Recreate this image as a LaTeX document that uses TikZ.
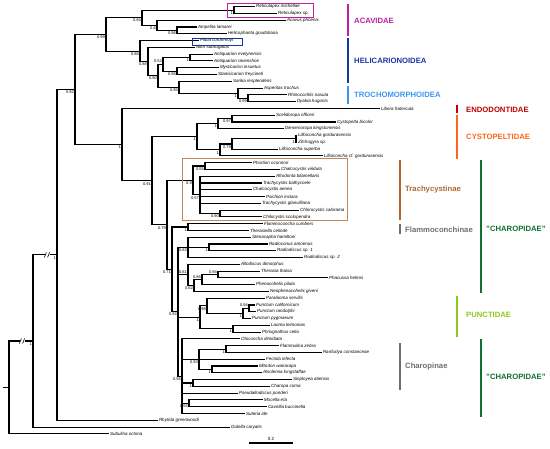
\documentclass[tikz,border=0pt]{standalone}
\usepackage{fontspec}
\setmainfont{Liberation Sans}
\usetikzlibrary{calc}
\definecolor{acav}{RGB}{192,32,160}
\definecolor{helic}{RGB}{24,54,160}
\definecolor{troch}{RGB}{60,150,240}
\definecolor{endo}{RGB}{192,0,0}
\definecolor{cysto}{RGB}{255,102,26}
\definecolor{trachy}{RGB}{176,104,48}
\definecolor{flamc}{RGB}{110,110,110}
\definecolor{charo}{RGB}{16,112,48}
\definecolor{punct}{RGB}{140,200,30}
\tikzset{
  br/.style={line width=1.1pt},
  tip/.style={anchor=west, inner sep=0.8pt, font=\fontsize{4.5}{5}\selectfont\itshape},
  sup/.style={anchor=north east, inner sep=0.2pt, xshift=-0.8pt, yshift=-1pt, font=\fontsize{4}{4.5}\selectfont},
  supup/.style={anchor=south east, yshift=2pt},
  clade/.style={anchor=west, inner sep=0pt, font=\fontsize{7.7}{8}\selectfont\bfseries},
  bar/.style={line width=2.6pt}
}
\newcommand\Tip[4]{\coordinate (#1) at (#3,{6.7+6.78*#2}); \node[tip] (#1l) at (#1) {#4};}
\newcommand\Inode[4]{\path let \p1=($(#3)!.5!(#4)$) in coordinate (#1) at (#2pt,\y1);}
\newcommand\E[2]{\draw[br] (#1) |- (#2);}
\newcommand\Sup[3][]{\node[sup,#1] (s#2) at (#2) {#3};}
\begin{document}
\begin{tikzpicture}[x=1pt,y=-1pt]
\useasboundingbox (0,0) rectangle (550,449);
% tips
\Tip{t0}{0}{255}{Reticulapex michellae}
\Tip{t1}{1}{277}{Reticulapex sp.}
\Tip{t2}{2}{286}{Acavus phoenix}
\Tip{t3}{3}{197}{Ampelita lamarei}
\Tip{t4}{4}{227}{Helicophanta goudotiana}
\Tip{t5}{5}{199}{Pilula cordemoyi}
\Tip{t6}{6}{195}{Nitor subrugatus}
\Tip{t7}{7}{213}{Antiquarion evelynensis}
\Tip{t8}{8}{213}{Antiquarion ravenshoe}
\Tip{t9}{9}{219}{Mysticarion insuetus}
\Tip{t10}{10}{217}{Stanisicarion freycineti}
\Tip{t11}{11}{232}{Sarika resplendens}
\Tip{t12}{12}{263}{Asperitas trochus}
\Tip{t13}{13}{287}{Rhinocochlis nasuta}
\Tip{t14}{14}{296}{Dyakia hugonis}
\Tip{t15}{15}{380}{Libera fratercula}
\Tip{t16}{16}{275}{Scelidoropa officeri}
\Tip{t17}{17}{336}{Cystopelta bicolor}
\Tip{t18}{18}{284}{Diemenoropa kingstonensis}
\Tip{t19}{19}{297}{Lilloiconcha gordurasensis}
\Tip{t20}{20}{297}{Zilchogyra sp.}
\Tip{t21}{21}{278}{Lilloiconcha superba}
\Tip{t22}{22}{323}{Lilloiconcha cf. gordurasensis}
\Tip{t23}{23}{252}{Phortion oconnori}
\Tip{t24}{24}{280}{Chalcocystis viridula}
\Tip{t25}{25}{275}{Afrodonta bilamellaris}
\Tip{t26}{26}{262}{Trachycystis bathycoele}
\Tip{t27}{27}{252}{Chalcocystis aenea}
\Tip{t28}{28}{265}{Psichion inclara}
\Tip{t29}{29}{261}{Trachycystis glanvilliana}
\Tip{t30}{30}{299}{Chlorocystis calorama}
\Tip{t31}{31}{262}{Chilocystis scolopendra}
\Tip{t32}{32}{263}{Flammoconcha cumbers}
\Tip{t33}{33}{249}{Therasiella celinde}
\Tip{t34}{34}{251}{Stenacapha hamiltoni}
\Tip{t35}{35}{268}{Radioconus amoenus}
\Tip{t36}{36}{276}{Radiodiscus sp. 1}
\Tip{t37}{37}{303}{Radiodiscus sp. 2}
\Tip{t38}{38}{240}{Allodiscus dimorphus}
\Tip{t39}{39}{260}{Therasia thaisa}
\Tip{t40}{40}{328}{Phacussa helmsi}
\Tip{t41}{41}{255}{Phenacohelix pilula}
\Tip{t42}{42}{269}{Neophenacohelix giveni}
\Tip{t43}{43}{265}{Paralaoma servilis}
\Tip{t44}{44}{255}{Punctum californicum}
\Tip{t45}{45}{256}{Punctum randolphi}
\Tip{t46}{46}{251}{Punctum pygmaeum}
\Tip{t47}{47}{270}{Laoma leimonias}
\Tip{t48}{48}{261}{Phrixgnathus celia}
\Tip{t49}{49}{240}{Otoconcha dimidiata}
\Tip{t50}{50}{279}{Flammulina zebra}
\Tip{t51}{51}{322}{Ranfurlya constanceae}
\Tip{t52}{52}{265}{Fectola infecta}
\Tip{t53}{53}{258}{Mitodon wairarapa}
\Tip{t54}{54}{262}{Alsolemia longstaffae}
\Tip{t55}{55}{292}{Sinployea atiensis}
\Tip{t56}{56}{270}{Charopa coma}
\Tip{t57}{57}{238}{Pseudallodiscus ponderi}
\Tip{t58}{58}{263}{Mocella eta}
\Tip{t59}{59}{267}{Cavellia buccinella}
\Tip{t60}{60}{245}{Suteria ide}
\Tip{t61}{61}{158}{Rhytida greenwoodi}
\Tip{t62}{62}{230}{Gulella caryatis}
\Tip{t63}{63}{109}{Subulina octona}
% internal nodes
\Inode{nR}{234}{t0}{t1}
\Inode{nAH}{177}{t3}{t4}
\Inode{n06}{157}{t2}{nAH}
\Inode{nAc}{142}{nR}{n06}
\Inode{nAq}{190}{t7}{t8}
\Inode{nMS}{177}{t9}{t10}
\Inode{n052}{163}{nAq}{nMS}
\Inode{nRD}{248}{t13}{t14}
\Inode{nAs}{238}{t12}{nRD}
\Inode{n095}{179}{t11}{nAs}
\Inode{n090}{158}{n052}{n095}
\Inode{n088}{148}{t6}{n090}
\Inode{n086}{140}{t5}{n088}
\Inode{n099}{106}{nAc}{n086}
\Inode{n097}{232}{t16}{t17}
\Inode{nCD}{218}{n097}{t18}
\Inode{nLZ}{296}{t19}{t20}
\Inode{n079c}{232}{nLZ}{t21}
\Inode{nLL}{220}{n079c}{t22}
\Inode{nCy}{197}{nCD}{nLL}
\Inode{n055}{205}{t23}{t24}
\Inode{nCC}{220}{t30}{t31}
\Inode{n057}{200}{t25}{nCC}
\Inode{nTr}{193}{n055}{n057}
\Inode{nFl}{188}{t32}{t33}
\Inode{nRa}{209}{t35}{t36}
\Inode{n083}{188}{t34}{t37}
\Inode{n094}{218}{t39}{t40}
\Inode{n086b}{202}{n094}{t41}
\Inode{n062}{194}{n086b}{t42}
\Inode{n061}{188}{t38}{n062}
\Inode{nPcr}{249}{t44}{t45}
\Inode{nPp}{243}{nPcr}{t46}
\Inode{n098}{207}{t43}{nPp}
\Inode{nLP}{233}{t47}{t48}
\Inode{nPu}{200}{n098}{nLP}
\Inode{nFR}{226}{t50}{t51}
\Inode{nMA}{212}{t53}{t54}
\Inode{n093}{199}{nFR}{nMA}
\Inode{nSC}{193}{t55}{t56}
\Inode{nMC}{189}{t58}{t59}
\Inode{n056}{182}{t49}{t60}
\Inode{n092}{178}{n083}{n056}
\Inode{n071}{172}{nFl}{n092}
\Inode{n079}{167}{nTr}{n071}
\Inode{n091}{152}{nCy}{n079}
\Inode{n1b}{122}{t15}{n091}
\Inode{n092a}{75}{n099}{n1b}
\Inode{n057r}{57}{n092a}{t61}
\Inode{n1d}{33}{n057r}{t62}
\Inode{nRoot}{9}{n1d}{t63}
\path (nRoot) ++(-6,0) coordinate (stub);
% edges
\E{nR}{t0}\E{nR}{t1}
\E{nAH}{t3}\E{nAH}{t4}
\E{n06}{t2}\E{n06}{nAH}
\E{nAc}{nR}\E{nAc}{n06}
\E{nAq}{t7}\E{nAq}{t8}
\E{nMS}{t9}\E{nMS}{t10}
\E{n052}{nAq}\E{n052}{nMS}
\E{nRD}{t13}\E{nRD}{t14}
\E{nAs}{t12}\E{nAs}{nRD}
\E{n095}{t11}\E{n095}{nAs}
\E{n090}{n052}\E{n090}{n095}
\E{n088}{t6}\E{n088}{n090}
\E{n086}{t5}\E{n086}{n088}
\E{n099}{nAc}\E{n099}{n086}
\E{n097}{t16}\E{n097}{t17}
\E{nCD}{n097}\E{nCD}{t18}
\E{nLZ}{t19}\E{nLZ}{t20}
\E{n079c}{nLZ}\E{n079c}{t21}
\E{nLL}{n079c}\E{nLL}{t22}
\E{nCy}{nCD}\E{nCy}{nLL}
\E{n055}{t23}\E{n055}{t24}
\E{nCC}{t30}\E{nCC}{t31}
\E{n057}{t25}\E{n057}{t26}\E{n057}{t27}\E{n057}{t28}\E{n057}{t29}\E{n057}{nCC}
\E{nTr}{n055}\E{nTr}{n057}
\E{nFl}{t32}\E{nFl}{t33}
\E{nRa}{t35}\E{nRa}{t36}
\E{n083}{t34}\E{n083}{nRa}\E{n083}{t37}
\E{n094}{t39}\E{n094}{t40}
\E{n086b}{n094}\E{n086b}{t41}
\E{n062}{n086b}\E{n062}{t42}
\E{n061}{t38}\E{n061}{n062}
\E{nPcr}{t44}\E{nPcr}{t45}
\E{nPp}{nPcr}\E{nPp}{t46}
\E{n098}{t43}\E{n098}{nPp}
\E{nLP}{t47}\E{nLP}{t48}
\E{nPu}{n098}\E{nPu}{nLP}
\E{nFR}{t50}\E{nFR}{t51}
\E{nMA}{t53}\E{nMA}{t54}
\E{n093}{nFR}\E{n093}{t52}\E{n093}{nMA}
\E{nSC}{t55}\E{nSC}{t56}
\E{nMC}{t58}\E{nMC}{t59}
\E{n056}{t49}\E{n056}{n093}\E{n056}{nSC}\E{n056}{t57}\E{n056}{nMC}\E{n056}{t60}
\E{n092}{n083}\E{n092}{n061}\E{n092}{nPu}\E{n092}{n056}
\E{n071}{nFl}\E{n071}{n092}
\E{n079}{nTr}\E{n079}{n071}
\E{n091}{nCy}\E{n091}{n079}
\E{n1b}{t15}\E{n1b}{n091}
\E{n092a}{n099}\E{n092a}{n1b}
\E{n057r}{n092a}\E{n057r}{t61}
\E{n1d}{n057r}\E{n1d}{t62}
\E{nRoot}{n1d}\E{nRoot}{t63}
\draw[br] (stub) -- (nRoot);
% break marks
\path (n057r) ++(-10,0) coordinate (bk1);
\path (n1d) ++(-11,0) coordinate (bk2);
\foreach \b in {bk1,bk2}{
  \fill[white] ($(\b)+(-2.5,-3)$) rectangle ($(\b)+(2.5,3)$);
  \draw[line width=0.6pt] ($(\b)+(-2.6,2.5)$) -- ($(\b)+(-0.6,-2.5)$);
  \draw[line width=0.6pt] ($(\b)+(0.6,2.5)$) -- ($(\b)+(2.6,-2.5)$);
}
% supports
\Sup{nR}{1}\Sup{nAH}{0.96}\Sup{n06}{0.6}\Sup{nAc}{0.94}
\Sup{nAq}{1}\Sup{nMS}{0.96}\Sup[supup]{n052}{0.52}\Sup{nRD}{0.99}\Sup{nAs}{1}
\Sup{n095}{0.95}\Sup{n090}{0.90}\Sup{n088}{0.88}\Sup{n086}{0.86}\Sup{n099}{0.99}
\Sup{n092a}{0.92}\Sup{n1b}{1}\Sup{n057r}{1}\Sup{n1d}{1}
\Sup{n097}{0.97}\Sup{nCD}{1}\Sup{nLZ}{1}\Sup{n079c}{0.79}\Sup{nLL}{1}\Sup{nCy}{1}
\Sup{n091}{0.91}\Sup{n079}{0.79}\Sup{n055}{0.55}\Sup{nTr}{0.9}\Sup{n057}{0.57}\Sup{nCC}{0.90}
\Sup{n071}{0.71}\Sup{nFl}{1}\Sup{n083}{0.83}\Sup{nRa}{1}\Sup[supup]{n061}{0.61}\Sup[supup]{n086b}{0.86}
\Sup[supup]{n094}{0.94}\Sup{n062}{0.62}\Sup{n098}{0.98}\Sup[supup]{nPcr}{0.94}\Sup{nPp}{1}\Sup{nPu}{1}
\Sup{nLP}{1}\Sup{n092}{0.92}\Sup{nFR}{1}\Sup{n093}{0.93}\Sup{nMA}{1}\Sup{nSC}{1}
\Sup{nMC}{0.55}\Sup{n056}{0.56}
% boxes
\draw[acav, line width=1pt] (227,4) rectangle (313,17.3);
\draw[helic, line width=1pt] (192,38.3) rectangle (242,45.7);
\draw[trachy!80, line width=1pt] (182,159) rectangle (347,221);
% clade bars and labels
\draw[bar, acav] (348,4) -- (348,36);
\node[clade, acav] (cAcav) at (354,20.5) {ACAVIDAE};
\draw[bar, helic] (348,38.5) -- (348,83);
\node[clade, helic] (cHel) at (354,61) {HELICARIONOIDEA};
\draw[bar, troch] (348,86) -- (348,104);
\node[clade, troch] (cTro) at (354,95) {TROCHOMORPHOIDEA};
\draw[bar, endo] (457,105) -- (457,113);
\node[clade, endo] (cEnd) at (466,109.5) {ENDODONTIDAE};
\draw[bar, cysto] (457,115) -- (457,159);
\node[clade, cysto] (cCys) at (466,137) {CYSTOPELTIDAE};
\draw[bar, trachy] (400,160) -- (400,220);
\node[clade, trachy] (cTra) at (405,190) {Trachycystinae};
\draw[bar, flamc] (400,224) -- (400,234);
\node[clade, flamc] (cFla) at (405,229.5) {Flammoconchinae};
\draw[bar, charo] (481,160) -- (481,293);
\node[clade, charo] (cCh1) at (486,228.5) {"CHAROPIDAE"};
\draw[bar, punct] (457,296) -- (457,337);
\node[clade, punct] (cPun) at (466,314.5) {PUNCTIDAE};
\draw[bar, flamc] (400,343) -- (400,390);
\node[clade, flamc] (cCha) at (405,367) {Charopinae};
\draw[bar, charo] (481,339) -- (481,417);
\node[clade, charo] (cCh2) at (486,377) {"CHAROPIDAE"};
% scale bar
\coordinate (sb1) at (249,443);
\coordinate (sb2) at (293,443);
\draw[br] (sb1) -- (sb2);
\node[font=\fontsize{4.5}{5}\selectfont, inner sep=0.5pt, anchor=south] (sbl) at ($(sb1)!.5!(sb2)+(0,-1.5)$) {0.2};
\end{tikzpicture}
\end{document}
